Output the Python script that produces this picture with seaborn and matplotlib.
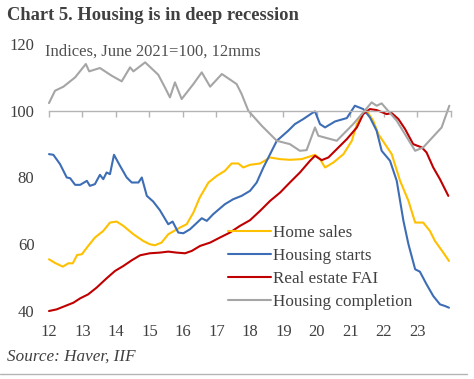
import numpy as np
import pandas as pd
import matplotlib
matplotlib.use("Agg")
import matplotlib.pyplot as plt
import seaborn as sns
from matplotlib.lines import Line2D

# Values (x = year-20xx as a fraction, y = index, June 2021=100)
sales_t = [12.0, 12.18, 12.41, 12.58, 12.71, 12.84, 12.98, 13.17, 13.37, 13.62, 13.82, 14.02,
           14.22, 14.52, 14.81, 15.01, 15.16, 15.36, 15.56, 15.91, 16.11, 16.31, 16.5, 16.76,
           17.01, 17.25, 17.45, 17.65, 17.8, 18.0, 18.3, 18.6, 18.9, 19.19, 19.54, 19.94,
           20.09, 20.24, 20.49, 20.79, 21.04, 21.19, 21.38, 21.48, 21.68, 21.83, 22.03, 22.23,
           22.48, 22.73, 22.93, 23.17, 23.37, 23.52, 23.77, 23.94]
sales_v = [55.5, 54.4, 53.3, 54.3, 54.3, 56.8, 57.0, 59.5, 62.0, 64.0, 66.5, 66.8,
           65.5, 63.0, 61.0, 60.0, 59.7, 60.5, 63.0, 65.0, 66.0, 69.5, 74.0, 78.5,
           80.5, 82.0, 84.2, 84.2, 83.0, 83.8, 84.2, 86.0, 85.5, 85.3, 85.5, 86.8,
           85.5, 83.0, 84.5, 87.0, 91.0, 96.0, 99.5, 100.0, 97.0, 93.0, 90.0, 87.0,
           79.0, 73.0, 66.5, 66.5, 64.0, 61.0, 57.5, 55.0]

starts_t = [12.0, 12.13, 12.33, 12.53, 12.63, 12.78, 12.93, 13.13, 13.22, 13.37, 13.52, 13.62,
            13.72, 13.82, 13.94, 14.12, 14.32, 14.47, 14.67, 14.77, 14.92, 15.11, 15.31, 15.56,
            15.69, 15.86, 16.01, 16.21, 16.56, 16.71, 16.9, 17.25, 17.5, 17.75, 18.0, 18.2,
            18.4, 18.6, 18.8, 19.14, 19.34, 19.59, 19.84, 19.94, 20.09, 20.24, 20.54, 20.89,
            21.13, 21.38, 21.58, 21.78, 21.93, 22.18, 22.38, 22.58, 22.73, 22.93, 23.07, 23.27,
            23.47, 23.67, 23.82, 23.94]
starts_v = [87.0, 86.8, 84.0, 80.0, 79.8, 77.8, 77.8, 79.0, 77.5, 78.0, 80.8, 79.5,
            81.5, 81.0, 86.8, 83.5, 80.0, 78.5, 78.5, 80.0, 74.5, 72.8, 70.2, 66.0,
            66.8, 63.5, 63.3, 64.5, 67.8, 67.0, 69.0, 72.0, 73.5, 74.5, 76.0, 78.5,
            83.0, 87.0, 91.0, 94.0, 96.0, 97.5, 99.2, 99.8, 96.0, 95.0, 96.8, 97.8,
            101.5, 100.5, 98.0, 94.0, 88.0, 85.0, 79.0, 67.0, 60.0, 52.5, 51.8, 48.0,
            44.5, 42.0, 41.5, 41.0]

fai_t = [12.0, 12.23, 12.48, 12.73, 12.93, 13.17, 13.42, 13.72, 13.97, 14.22, 14.47, 14.72,
         15.01, 15.31, 15.56, 15.81, 16.06, 16.26, 16.51, 16.81, 17.1, 17.4, 17.7, 18.0,
         18.3, 18.6, 18.9, 19.19, 19.49, 19.79, 19.94, 20.14, 20.34, 20.59, 20.89, 21.19,
         21.38, 21.58, 21.78, 22.08, 22.23, 22.43, 22.63, 22.87, 23.13, 23.27, 23.47, 23.67,
         23.92]
fai_v = [40.0, 40.5, 41.5, 42.5, 43.8, 45.0, 47.0, 49.8, 52.0, 53.5, 55.2, 56.7,
         57.3, 57.5, 57.8, 57.5, 57.3, 58.0, 59.5, 60.5, 62.0, 63.5, 65.5, 67.2,
         70.0, 73.0, 75.5, 78.5, 81.5, 85.0, 86.5, 85.2, 86.0, 88.5, 91.5, 95.0,
         99.0, 100.5, 100.2, 99.0, 99.3, 97.5, 94.5, 90.0, 89.0, 87.5, 83.0, 79.5,
         74.5]

compl_t = [12.0, 12.18, 12.43, 12.63, 12.78, 13.1, 13.2, 13.52, 13.87, 14.17, 14.42, 14.52,
           14.87, 15.26, 15.46, 15.61, 15.76, 15.96, 16.31, 16.56, 16.81, 17.16, 17.6, 17.75,
           17.95, 18.35, 18.8, 19.19, 19.49, 19.69, 19.94, 20.04, 20.59, 21.08, 21.38, 21.63,
           21.78, 21.93, 22.38, 22.93, 23.17, 23.72, 23.95]
compl_v = [102.3, 106.0, 107.2, 108.8, 110.0, 114.0, 111.8, 112.8, 110.5, 108.8, 113.0, 111.8,
           114.5, 110.8, 107.0, 104.0, 108.5, 103.5, 108.0, 111.5, 107.2, 111.0, 108.0, 105.0,
           100.0, 95.5, 91.0, 90.0, 88.0, 88.2, 95.0, 92.5, 91.0, 96.0, 99.5, 102.5,
           101.5, 102.2, 97.0, 88.0, 89.0, 95.0, 101.5]

series = [
    ("Home sales", sales_t, sales_v, "#FFC000"),
    ("Housing starts", starts_t, starts_v, "#3D6DB5"),
    ("Real estate FAI", fai_t, fai_v, "#C00000"),
    ("Housing completion", compl_t, compl_v, "#A5A5A5"),
]
year_ticks = list(range(12, 24))
year_labels = ["12", "13", "14", "15", "16", "17", "18", "19", "20", "21", "22", "23"]

sns.set_theme(style="white")
plt.rcParams["font.family"] = ["Liberation Serif", "DejaVu Serif"]
text_col = "#404040"

fig = plt.figure(figsize=(4.74, 3.79), dpi=100)
ax = fig.add_axes([49 / 474, 1 - 317.7 / 379, 402 / 474, 280.4 / 379])

for name, t, v, col in series:
    df = pd.DataFrame({"t": t, "v": v})
    sns.lineplot(data=df, x="t", y="v", color=col, lw=1.5, label=name, ax=ax,
                 sort=False, clip_on=False)

ax.set_xlim(12, 24)
ax.set_ylim(38, 122)
ax.set_yticks([40, 60, 80, 100, 120])
ax.set_xlabel("")
ax.set_ylabel("")

# x axis sits on the 100 line; year labels go below the plot
for s in ["top", "right", "left"]:
    ax.spines[s].set_visible(False)
ax.spines["bottom"].set_position(("data", 100))
ax.spines["bottom"].set_color("#B4B4B4")
ax.spines["bottom"].set_linewidth(1.0)
ax.set_xticks(range(12, 25))
ax.tick_params(axis="x", bottom=True, length=4, width=1.0, color="#B4B4B4",
               direction="out", labelbottom=False)
ax.tick_params(axis="y", left=False, length=0, pad=10.5, labelsize=12, labelcolor=text_col)

for yr, lab in zip(year_ticks, year_labels):
    ax.text(yr, -0.051, lab, transform=ax.get_xaxis_transform(), fontsize=12,
            color=text_col, ha="center", va="center")

ax.text(-0.01, 0.95, "Indices, June 2021=100, 12mms", transform=ax.transAxes,
        fontsize=12, color="#505050", ha="left", va="center")

leg = ax.legend(loc="upper left", bbox_to_anchor=(0.445, 0.33), frameon=False,
                fontsize=12.3, handlelength=2.5, handletextpad=0.15, labelspacing=0.4,
                borderpad=0, borderaxespad=0)
for txt in leg.get_texts():
    txt.set_color(text_col)

fig.text(7 / 474, 1 - 16 / 379, "Chart 5. Housing is in deep recession", fontsize=13.3,
         fontweight="bold", color=text_col, ha="left", va="center")
fig.text(7 / 474, 1 - 357 / 379, "Source: Haver, IIF", fontsize=12.3, style="italic",
         color=text_col, ha="left", va="center")
fig.add_artist(Line2D([0, 467 / 474], [1 - 374 / 379, 1 - 374 / 379],
                      transform=fig.transFigure, color="#B4B4B4", lw=1.0))

fig.savefig("out.png", dpi=100, facecolor="white")
